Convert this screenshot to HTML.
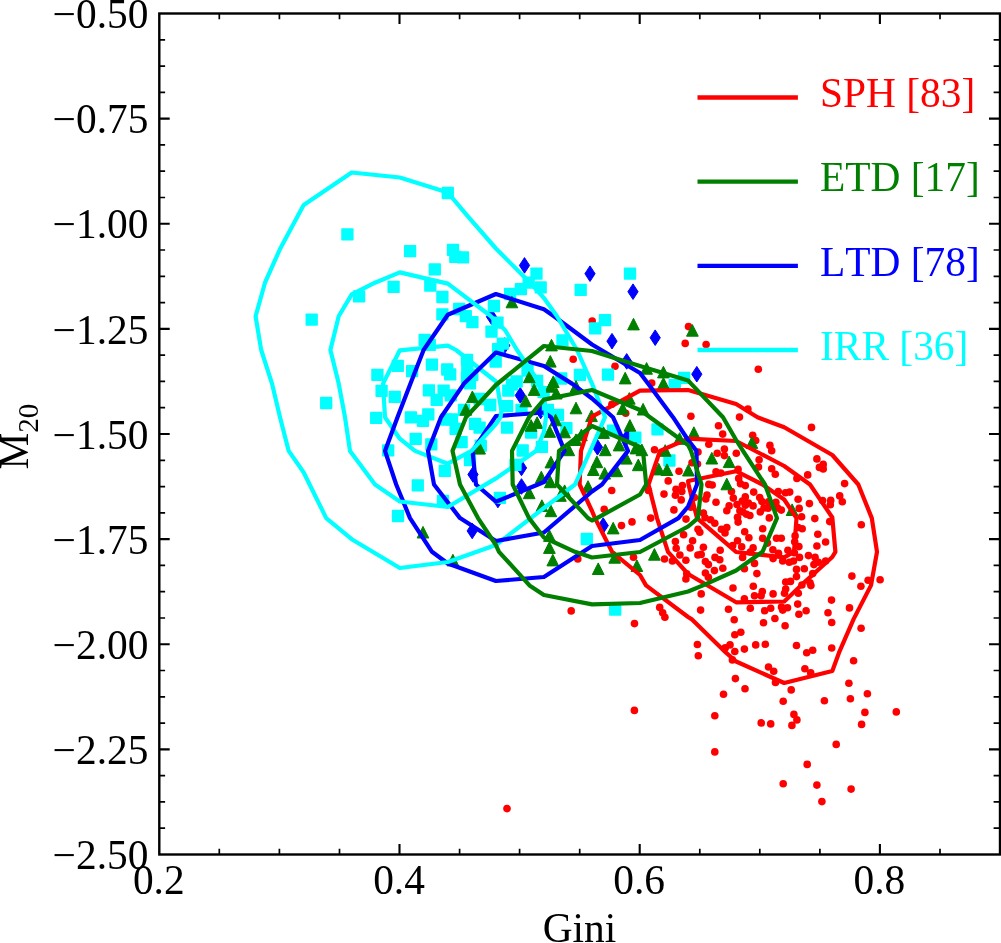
<!DOCTYPE html>
<html lang="en">
<head>
<meta charset="utf-8">
<title>Gini - M20</title>
<style>
html,body{margin:0;padding:0;background:#fff;}
body{width:1001px;height:943px;overflow:hidden;}
svg{display:block;}
svg text{font-family:"Liberation Serif", "Times New Roman", serif;font-size:41.4px;fill:#000;font-kerning:none;}
</style>
</head>
<body>
<svg width="1001" height="943" viewBox="0 0 1001 943">
<rect x="0" y="0" width="1001" height="943" fill="#fff"/>
<g fill="#ff0000">
<circle cx="748.4" cy="503.0" r="3.8"/><circle cx="737.0" cy="504.5" r="3.8"/><circle cx="749.9" cy="515.5" r="3.8"/><circle cx="742.9" cy="512.0" r="3.8"/><circle cx="761.9" cy="501.5" r="3.8"/><circle cx="712.2" cy="485.0" r="3.8"/><circle cx="705.8" cy="499.0" r="3.8"/><circle cx="705.0" cy="517.8" r="3.8"/><circle cx="708.8" cy="444.2" r="3.8"/><circle cx="717.2" cy="453.2" r="3.8"/><circle cx="724.4" cy="449.0" r="3.8"/><circle cx="724.4" cy="455.6" r="3.8"/><circle cx="736.3" cy="453.2" r="3.8"/><circle cx="698.0" cy="452.0" r="3.8"/><circle cx="769.9" cy="445.4" r="3.8"/><circle cx="771.7" cy="450.8" r="3.8"/><circle cx="759.1" cy="459.8" r="3.8"/><circle cx="758.5" cy="467.0" r="3.8"/><circle cx="771.7" cy="468.8" r="3.8"/><circle cx="775.3" cy="474.2" r="3.8"/><circle cx="796.9" cy="478.4" r="3.8"/><circle cx="738.1" cy="469.4" r="3.8"/><circle cx="716.0" cy="471.8" r="3.8"/><circle cx="720.8" cy="473.0" r="3.8"/><circle cx="738.7" cy="478.4" r="3.8"/><circle cx="740.5" cy="483.8" r="3.8"/><circle cx="745.3" cy="485.6" r="3.8"/><circle cx="708.8" cy="484.4" r="3.8"/><circle cx="707.0" cy="495.1" r="3.8"/><circle cx="716.0" cy="502.3" r="3.8"/><circle cx="731.5" cy="491.5" r="3.8"/><circle cx="733.3" cy="498.1" r="3.8"/><circle cx="745.3" cy="496.9" r="3.8"/><circle cx="753.7" cy="492.1" r="3.8"/><circle cx="759.7" cy="497.5" r="3.8"/><circle cx="742.3" cy="501.1" r="3.8"/><circle cx="745.3" cy="505.3" r="3.8"/><circle cx="753.1" cy="505.9" r="3.8"/><circle cx="729.1" cy="505.9" r="3.8"/><circle cx="726.8" cy="510.7" r="3.8"/><circle cx="739.9" cy="510.7" r="3.8"/><circle cx="746.5" cy="514.3" r="3.8"/><circle cx="737.5" cy="517.3" r="3.8"/><circle cx="738.1" cy="522.1" r="3.8"/><circle cx="760.3" cy="511.9" r="3.8"/><circle cx="768.1" cy="508.3" r="3.8"/><circle cx="769.3" cy="517.9" r="3.8"/><circle cx="778.3" cy="491.5" r="3.8"/><circle cx="785.5" cy="492.7" r="3.8"/><circle cx="789.7" cy="492.1" r="3.8"/><circle cx="798.1" cy="499.3" r="3.8"/><circle cx="775.9" cy="502.3" r="3.8"/><circle cx="781.3" cy="510.1" r="3.8"/><circle cx="762.7" cy="528.7" r="3.8"/><circle cx="744.7" cy="531.7" r="3.8"/><circle cx="748.9" cy="537.7" r="3.8"/><circle cx="737.5" cy="540.7" r="3.8"/><circle cx="741.7" cy="546.7" r="3.8"/><circle cx="753.1" cy="547.9" r="3.8"/><circle cx="732.7" cy="545.5" r="3.8"/><circle cx="726.8" cy="527.5" r="3.8"/><circle cx="721.4" cy="529.3" r="3.8"/><circle cx="725.0" cy="532.9" r="3.8"/><circle cx="710.6" cy="519.7" r="3.8"/><circle cx="714.8" cy="523.3" r="3.8"/><circle cx="703.4" cy="513.1" r="3.8"/><circle cx="698.0" cy="529.3" r="3.8"/><circle cx="699.8" cy="532.3" r="3.8"/><circle cx="692.6" cy="540.7" r="3.8"/><circle cx="690.2" cy="547.9" r="3.8"/><circle cx="703.4" cy="547.3" r="3.8"/><circle cx="720.2" cy="550.3" r="3.8"/><circle cx="683.6" cy="534.7" r="3.8"/><circle cx="686.0" cy="519.1" r="3.8"/><circle cx="681.2" cy="499.9" r="3.8"/><circle cx="682.4" cy="485.6" r="3.8"/><circle cx="681.8" cy="491.5" r="3.8"/><circle cx="690.8" cy="507.1" r="3.8"/><circle cx="694.4" cy="497.5" r="3.8"/><circle cx="776.5" cy="538.3" r="3.8"/><circle cx="781.3" cy="538.3" r="3.8"/><circle cx="762.7" cy="538.3" r="3.8"/><circle cx="767.5" cy="543.1" r="3.8"/><circle cx="772.9" cy="549.7" r="3.8"/><circle cx="787.9" cy="550.3" r="3.8"/><circle cx="795.1" cy="535.9" r="3.8"/><circle cx="798.1" cy="527.5" r="3.8"/><circle cx="692.0" cy="462.8" r="3.8"/><circle cx="611.9" cy="404.2" r="3.8"/><circle cx="625.7" cy="413.2" r="3.8"/><circle cx="654.5" cy="449.7" r="3.8"/><circle cx="611.7" cy="490.5" r="3.8"/><circle cx="701.2" cy="554.4" r="3.8"/><circle cx="705.4" cy="561.6" r="3.8"/><circle cx="708.4" cy="564.6" r="3.8"/><circle cx="715.0" cy="557.4" r="3.8"/><circle cx="719.8" cy="559.8" r="3.8"/><circle cx="722.8" cy="568.2" r="3.8"/><circle cx="714.4" cy="570.6" r="3.8"/><circle cx="705.4" cy="573.0" r="3.8"/><circle cx="708.4" cy="577.2" r="3.8"/><circle cx="750.3" cy="552.0" r="3.8"/><circle cx="742.6" cy="557.4" r="3.8"/><circle cx="754.5" cy="563.4" r="3.8"/><circle cx="744.4" cy="568.8" r="3.8"/><circle cx="756.9" cy="573.6" r="3.8"/><circle cx="778.5" cy="553.2" r="3.8"/><circle cx="773.1" cy="558.6" r="3.8"/><circle cx="782.7" cy="561.0" r="3.8"/><circle cx="789.3" cy="562.2" r="3.8"/><circle cx="793.5" cy="561.0" r="3.8"/><circle cx="798.9" cy="546.6" r="3.8"/><circle cx="794.7" cy="541.8" r="3.8"/><circle cx="799.5" cy="557.4" r="3.8"/><circle cx="796.5" cy="569.4" r="3.8"/><circle cx="804.3" cy="568.8" r="3.8"/><circle cx="808.5" cy="555.6" r="3.8"/><circle cx="815.1" cy="557.4" r="3.8"/><circle cx="816.9" cy="546.0" r="3.8"/><circle cx="813.9" cy="564.6" r="3.8"/><circle cx="812.7" cy="573.6" r="3.8"/><circle cx="796.5" cy="576.6" r="3.8"/><circle cx="785.7" cy="582.0" r="3.8"/><circle cx="790.5" cy="581.4" r="3.8"/><circle cx="801.9" cy="585.0" r="3.8"/><circle cx="810.9" cy="585.6" r="3.8"/><circle cx="785.7" cy="589.1" r="3.8"/><circle cx="784.5" cy="593.3" r="3.8"/><circle cx="798.3" cy="593.3" r="3.8"/><circle cx="733.0" cy="588.0" r="3.8"/><circle cx="753.3" cy="586.2" r="3.8"/><circle cx="762.3" cy="591.5" r="3.8"/><circle cx="754.5" cy="595.7" r="3.8"/><circle cx="761.1" cy="595.7" r="3.8"/><circle cx="773.1" cy="593.9" r="3.8"/><circle cx="744.4" cy="598.7" r="3.8"/><circle cx="750.3" cy="608.3" r="3.8"/><circle cx="764.7" cy="610.7" r="3.8"/><circle cx="770.7" cy="608.3" r="3.8"/><circle cx="781.5" cy="607.1" r="3.8"/><circle cx="787.5" cy="607.7" r="3.8"/><circle cx="782.7" cy="610.1" r="3.8"/><circle cx="797.7" cy="604.1" r="3.8"/><circle cx="806.1" cy="610.7" r="3.8"/><circle cx="798.9" cy="614.3" r="3.8"/><circle cx="701.2" cy="593.9" r="3.8"/><circle cx="700.6" cy="610.1" r="3.8"/><circle cx="728.5" cy="609.3" r="3.8"/><circle cx="734.2" cy="619.7" r="3.8"/><circle cx="763.5" cy="622.7" r="3.8"/><circle cx="774.9" cy="618.5" r="3.8"/><circle cx="785.1" cy="625.7" r="3.8"/><circle cx="734.8" cy="634.7" r="3.8"/><circle cx="740.8" cy="632.3" r="3.8"/><circle cx="730.0" cy="644.9" r="3.8"/><circle cx="725.2" cy="647.9" r="3.8"/><circle cx="734.8" cy="651.5" r="3.8"/><circle cx="744.4" cy="649.1" r="3.8"/><circle cx="755.7" cy="644.9" r="3.8"/><circle cx="765.3" cy="644.3" r="3.8"/><circle cx="796.5" cy="645.5" r="3.8"/><circle cx="812.7" cy="650.3" r="3.8"/><circle cx="806.7" cy="652.7" r="3.8"/><circle cx="809.4" cy="503.6" r="3.8"/><circle cx="799.2" cy="508.4" r="3.8"/><circle cx="801.6" cy="516.8" r="3.8"/><circle cx="814.8" cy="518.6" r="3.8"/><circle cx="829.7" cy="521.6" r="3.8"/><circle cx="802.2" cy="528.8" r="3.8"/><circle cx="817.8" cy="534.2" r="3.8"/><circle cx="825.6" cy="542.0" r="3.8"/><circle cx="794.4" cy="552.7" r="3.8"/><circle cx="818.4" cy="562.3" r="3.8"/><circle cx="825.6" cy="561.1" r="3.8"/><circle cx="810.0" cy="582.7" r="3.8"/><circle cx="831.5" cy="600.1" r="3.8"/><circle cx="828.0" cy="612.7" r="3.8"/><circle cx="849.5" cy="607.9" r="3.8"/><circle cx="851.9" cy="576.1" r="3.8"/><circle cx="860.9" cy="586.3" r="3.8"/><circle cx="868.1" cy="580.3" r="3.8"/><circle cx="880.1" cy="579.7" r="3.8"/><circle cx="861.3" cy="524.8" r="3.8"/><circle cx="842.3" cy="501.8" r="3.8"/><circle cx="822.6" cy="500.6" r="3.8"/><circle cx="830.3" cy="504.8" r="3.8"/><circle cx="690.9" cy="416.2" r="3.8"/><circle cx="739.5" cy="417.1" r="3.8"/><circle cx="747.9" cy="409.0" r="3.8"/><circle cx="718.5" cy="425.8" r="3.8"/><circle cx="722.7" cy="434.1" r="3.8"/><circle cx="752.7" cy="435.3" r="3.8"/><circle cx="697.5" cy="464.1" r="3.8"/><circle cx="679.0" cy="471.3" r="3.8"/><circle cx="668.2" cy="480.9" r="3.8"/><circle cx="676.0" cy="489.3" r="3.8"/><circle cx="664.0" cy="494.1" r="3.8"/><circle cx="648.4" cy="490.5" r="3.8"/><circle cx="675.4" cy="495.3" r="3.8"/><circle cx="592.2" cy="321.0" r="3.8"/><circle cx="688.5" cy="326.6" r="3.8"/><circle cx="685.2" cy="343.4" r="3.8"/><circle cx="706.1" cy="344.6" r="3.8"/><circle cx="615.0" cy="366.2" r="3.8"/><circle cx="651.7" cy="383.1" r="3.8"/><circle cx="604.2" cy="509.2" r="3.8"/><circle cx="621.5" cy="525.6" r="3.8"/><circle cx="632.0" cy="521.9" r="3.8"/><circle cx="673.9" cy="509.9" r="3.8"/><circle cx="650.7" cy="518.1" r="3.8"/><circle cx="633.5" cy="557.2" r="3.8"/><circle cx="634.5" cy="623.6" r="3.8"/><circle cx="659.7" cy="607.4" r="3.8"/><circle cx="662.7" cy="612.7" r="3.8"/><circle cx="664.9" cy="617.2" r="3.8"/><circle cx="697.4" cy="644.5" r="3.8"/><circle cx="698.3" cy="655.8" r="3.8"/><circle cx="732.4" cy="659.9" r="3.8"/><circle cx="735.4" cy="678.6" r="3.8"/><circle cx="664.5" cy="559.0" r="3.8"/><circle cx="672.4" cy="561.0" r="3.8"/><circle cx="676.2" cy="548.2" r="3.8"/><circle cx="679.9" cy="555.0" r="3.8"/><circle cx="685.9" cy="560.2" r="3.8"/><circle cx="697.9" cy="555.0" r="3.8"/><circle cx="686.7" cy="573.7" r="3.8"/><circle cx="685.9" cy="579.0" r="3.8"/><circle cx="675.4" cy="541.5" r="3.8"/><circle cx="811.5" cy="427.4" r="3.8"/><circle cx="755.7" cy="440.5" r="3.8"/><circle cx="816.9" cy="458.9" r="3.8"/><circle cx="823.2" cy="464.4" r="3.8"/><circle cx="819.4" cy="467.4" r="3.8"/><circle cx="823.2" cy="468.9" r="3.8"/><circle cx="807.7" cy="474.9" r="3.8"/><circle cx="844.6" cy="483.6" r="3.8"/><circle cx="839.7" cy="495.9" r="3.8"/><circle cx="830.7" cy="500.4" r="3.8"/><circle cx="764.0" cy="507.9" r="3.8"/><circle cx="768.5" cy="501.9" r="3.8"/><circle cx="777.5" cy="507.9" r="3.8"/><circle cx="577.8" cy="558.9" r="3.8"/><circle cx="571.2" cy="610.9" r="3.8"/><circle cx="573.2" cy="359.3" r="3.8"/><circle cx="507.0" cy="808.6" r="3.8"/><circle cx="634.4" cy="710.4" r="3.8"/><circle cx="723.5" cy="694.2" r="3.8"/><circle cx="714.8" cy="715.7" r="3.8"/><circle cx="714.8" cy="751.9" r="3.8"/><circle cx="831.7" cy="622.5" r="3.8"/><circle cx="861.1" cy="628.2" r="3.8"/><circle cx="831.7" cy="648.0" r="3.8"/><circle cx="853.6" cy="660.7" r="3.8"/><circle cx="768.5" cy="667.0" r="3.8"/><circle cx="773.7" cy="671.2" r="3.8"/><circle cx="804.9" cy="668.7" r="3.8"/><circle cx="810.7" cy="672.9" r="3.8"/><circle cx="775.5" cy="682.4" r="3.8"/><circle cx="745.0" cy="688.7" r="3.8"/><circle cx="791.2" cy="689.9" r="3.8"/><circle cx="848.9" cy="683.2" r="3.8"/><circle cx="867.4" cy="693.7" r="3.8"/><circle cx="783.2" cy="701.2" r="3.8"/><circle cx="824.4" cy="700.7" r="3.8"/><circle cx="850.4" cy="698.7" r="3.8"/><circle cx="864.9" cy="712.4" r="3.8"/><circle cx="896.3" cy="711.9" r="3.8"/><circle cx="793.9" cy="714.4" r="3.8"/><circle cx="796.9" cy="719.9" r="3.8"/><circle cx="791.9" cy="725.4" r="3.8"/><circle cx="761.2" cy="722.9" r="3.8"/><circle cx="770.7" cy="723.9" r="3.8"/><circle cx="861.6" cy="724.4" r="3.8"/><circle cx="836.2" cy="744.4" r="3.8"/><circle cx="807.2" cy="764.4" r="3.8"/><circle cx="783.2" cy="783.8" r="3.8"/><circle cx="816.9" cy="785.1" r="3.8"/><circle cx="851.1" cy="789.1" r="3.8"/><circle cx="821.9" cy="801.6" r="3.8"/><circle cx="758.3" cy="369.3" r="3.8"/>
</g>
<g fill="#0000ff" stroke="#0000ff" stroke-width="1" stroke-linejoin="round">
<path d="M491.5 309.0l5.1 7.8l-5.1 7.8l-5.1 -7.8z"/><path d="M504.7 337.7l5.1 7.8l-5.1 7.8l-5.1 -7.8z"/><path d="M520.3 387.6l5.1 7.8l-5.1 7.8l-5.1 -7.8z"/><path d="M540.7 403.2l5.1 7.8l-5.1 7.8l-5.1 -7.8z"/><path d="M473.0 466.7l5.1 7.8l-5.1 7.8l-5.1 -7.8z"/><path d="M521.5 460.1l5.1 7.8l-5.1 7.8l-5.1 -7.8z"/><path d="M521.5 478.7l5.1 7.8l-5.1 7.8l-5.1 -7.8z"/><path d="M597.5 439.5l5.1 7.8l-5.1 7.8l-5.1 -7.8z"/><path d="M627.5 428.7l5.1 7.8l-5.1 7.8l-5.1 -7.8z"/><path d="M633.0 283.9l5.1 7.8l-5.1 7.8l-5.1 -7.8z"/><path d="M612.0 333.4l5.1 7.8l-5.1 7.8l-5.1 -7.8z"/><path d="M655.2 329.9l5.1 7.8l-5.1 7.8l-5.1 -7.8z"/><path d="M696.8 366.4l5.1 7.8l-5.1 7.8l-5.1 -7.8z"/><path d="M626.7 353.6l5.1 7.8l-5.1 7.8l-5.1 -7.8z"/><path d="M590.0 265.9l5.1 7.8l-5.1 7.8l-5.1 -7.8z"/><path d="M603.2 517.8l5.1 7.8l-5.1 7.8l-5.1 -7.8z"/><path d="M472.2 523.1l5.1 7.8l-5.1 7.8l-5.1 -7.8z"/><path d="M497.9 492.2l5.1 7.8l-5.1 7.8l-5.1 -7.8z"/><path d="M524.5 257.6l5.1 7.8l-5.1 7.8l-5.1 -7.8z"/>
</g>
<g fill="#00ffff">
<rect x="436.25" y="290.85" width="12.3" height="12.3" rx="0.8"/><rect x="436.25" y="308.25" width="12.3" height="12.3" rx="0.8"/><rect x="453.05" y="302.85" width="12.3" height="12.3" rx="0.8"/><rect x="459.65" y="310.05" width="12.3" height="12.3" rx="0.8"/><rect x="466.25" y="315.95" width="12.3" height="12.3" rx="0.8"/><rect x="487.75" y="299.85" width="12.3" height="12.3" rx="0.8"/><rect x="503.95" y="287.85" width="12.3" height="12.3" rx="0.8"/><rect x="514.75" y="283.05" width="12.3" height="12.3" rx="0.8"/><rect x="522.55" y="276.45" width="12.3" height="12.3" rx="0.8"/><rect x="530.35" y="267.45" width="12.3" height="12.3" rx="0.8"/><rect x="534.55" y="281.25" width="12.3" height="12.3" rx="0.8"/><rect x="491.35" y="316.55" width="12.3" height="12.3" rx="0.8"/><rect x="485.35" y="325.55" width="12.3" height="12.3" rx="0.8"/><rect x="496.75" y="337.55" width="12.3" height="12.3" rx="0.8"/><rect x="491.95" y="342.95" width="12.3" height="12.3" rx="0.8"/><rect x="460.85" y="353.75" width="12.3" height="12.3" rx="0.8"/><rect x="489.55" y="355.55" width="12.3" height="12.3" rx="0.8"/><rect x="441.05" y="363.35" width="12.3" height="12.3" rx="0.8"/><rect x="444.05" y="368.15" width="12.3" height="12.3" rx="0.8"/><rect x="460.85" y="371.75" width="12.3" height="12.3" rx="0.8"/><rect x="521.35" y="364.55" width="12.3" height="12.3" rx="0.8"/><rect x="556.35" y="334.25" width="12.3" height="12.3" rx="0.8"/><rect x="510.55" y="375.35" width="12.3" height="12.3" rx="0.8"/><rect x="437.45" y="384.45" width="12.3" height="12.3" rx="0.8"/><rect x="444.65" y="389.25" width="12.3" height="12.3" rx="0.8"/><rect x="463.85" y="377.25" width="12.3" height="12.3" rx="0.8"/><rect x="473.45" y="392.85" width="12.3" height="12.3" rx="0.8"/><rect x="484.15" y="398.85" width="12.3" height="12.3" rx="0.8"/><rect x="457.85" y="403.65" width="12.3" height="12.3" rx="0.8"/><rect x="445.85" y="413.25" width="12.3" height="12.3" rx="0.8"/><rect x="449.45" y="422.75" width="12.3" height="12.3" rx="0.8"/><rect x="473.45" y="421.55" width="12.3" height="12.3" rx="0.8"/><rect x="455.45" y="435.95" width="12.3" height="12.3" rx="0.8"/><rect x="474.65" y="439.55" width="12.3" height="12.3" rx="0.8"/><rect x="463.85" y="453.95" width="12.3" height="12.3" rx="0.8"/><rect x="438.65" y="464.75" width="12.3" height="12.3" rx="0.8"/><rect x="505.75" y="378.45" width="12.3" height="12.3" rx="0.8"/><rect x="502.15" y="384.45" width="12.3" height="12.3" rx="0.8"/><rect x="500.95" y="400.05" width="12.3" height="12.3" rx="0.8"/><rect x="515.35" y="403.65" width="12.3" height="12.3" rx="0.8"/><rect x="500.95" y="421.55" width="12.3" height="12.3" rx="0.8"/><rect x="524.95" y="426.35" width="12.3" height="12.3" rx="0.8"/><rect x="516.55" y="444.35" width="12.3" height="12.3" rx="0.8"/><rect x="535.75" y="440.75" width="12.3" height="12.3" rx="0.8"/><rect x="541.75" y="403.65" width="12.3" height="12.3" rx="0.8"/><rect x="530.95" y="374.85" width="12.3" height="12.3" rx="0.8"/><rect x="509.35" y="458.75" width="12.3" height="12.3" rx="0.8"/><rect x="537.45" y="386.05" width="12.3" height="12.3" rx="0.8"/><rect x="551.85" y="408.85" width="12.3" height="12.3" rx="0.8"/><rect x="560.25" y="422.05" width="12.3" height="12.3" rx="0.8"/><rect x="606.95" y="424.45" width="12.3" height="12.3" rx="0.8"/><rect x="629.15" y="431.55" width="12.3" height="12.3" rx="0.8"/><rect x="651.35" y="423.25" width="12.3" height="12.3" rx="0.8"/><rect x="663.25" y="454.35" width="12.3" height="12.3" rx="0.8"/><rect x="668.65" y="378.85" width="12.3" height="12.3" rx="0.8"/><rect x="371.25" y="368.65" width="12.3" height="12.3" rx="0.8"/><rect x="375.45" y="384.75" width="12.3" height="12.3" rx="0.8"/><rect x="370.05" y="411.75" width="12.3" height="12.3" rx="0.8"/><rect x="391.65" y="359.65" width="12.3" height="12.3" rx="0.8"/><rect x="388.65" y="390.75" width="12.3" height="12.3" rx="0.8"/><rect x="405.95" y="365.05" width="12.3" height="12.3" rx="0.8"/><rect x="425.75" y="358.45" width="12.3" height="12.3" rx="0.8"/><rect x="418.55" y="333.85" width="12.3" height="12.3" rx="0.8"/><rect x="422.75" y="384.15" width="12.3" height="12.3" rx="0.8"/><rect x="430.55" y="393.75" width="12.3" height="12.3" rx="0.8"/><rect x="404.75" y="411.15" width="12.3" height="12.3" rx="0.8"/><rect x="416.75" y="414.75" width="12.3" height="12.3" rx="0.8"/><rect x="422.15" y="408.15" width="12.3" height="12.3" rx="0.8"/><rect x="440.15" y="413.55" width="12.3" height="12.3" rx="0.8"/><rect x="409.55" y="432.75" width="12.3" height="12.3" rx="0.8"/><rect x="425.15" y="438.15" width="12.3" height="12.3" rx="0.8"/><rect x="382.05" y="444.15" width="12.3" height="12.3" rx="0.8"/><rect x="468.95" y="417.75" width="12.3" height="12.3" rx="0.8"/><rect x="623.85" y="267.55" width="12.3" height="12.3" rx="0.8"/><rect x="598.85" y="314.05" width="12.3" height="12.3" rx="0.8"/><rect x="589.05" y="322.25" width="12.3" height="12.3" rx="0.8"/><rect x="601.85" y="368.45" width="12.3" height="12.3" rx="0.8"/><rect x="677.95" y="371.75" width="12.3" height="12.3" rx="0.8"/><rect x="609.05" y="603.55" width="12.3" height="12.3" rx="0.8"/><rect x="493.75" y="491.75" width="12.3" height="12.3" rx="0.8"/><rect x="436.85" y="494.75" width="12.3" height="12.3" rx="0.8"/><rect x="391.85" y="509.85" width="12.3" height="12.3" rx="0.8"/><rect x="580.65" y="532.85" width="12.3" height="12.3" rx="0.8"/><rect x="441.65" y="186.85" width="12.3" height="12.3" rx="0.8"/><rect x="341.25" y="228.25" width="12.3" height="12.3" rx="0.8"/><rect x="403.95" y="244.95" width="12.3" height="12.3" rx="0.8"/><rect x="446.85" y="243.75" width="12.3" height="12.3" rx="0.8"/><rect x="449.15" y="250.75" width="12.3" height="12.3" rx="0.8"/><rect x="456.85" y="251.25" width="12.3" height="12.3" rx="0.8"/><rect x="428.65" y="263.25" width="12.3" height="12.3" rx="0.8"/><rect x="387.45" y="280.75" width="12.3" height="12.3" rx="0.8"/><rect x="424.15" y="279.45" width="12.3" height="12.3" rx="0.8"/><rect x="352.95" y="290.25" width="12.3" height="12.3" rx="0.8"/><rect x="305.55" y="313.45" width="12.3" height="12.3" rx="0.8"/><rect x="423.65" y="338.65" width="12.3" height="12.3" rx="0.8"/><rect x="461.15" y="361.15" width="12.3" height="12.3" rx="0.8"/><rect x="466.15" y="368.65" width="12.3" height="12.3" rx="0.8"/><rect x="574.55" y="283.75" width="12.3" height="12.3" rx="0.8"/><rect x="573.75" y="368.65" width="12.3" height="12.3" rx="0.8"/><rect x="555.05" y="372.35" width="12.3" height="12.3" rx="0.8"/><rect x="320.05" y="396.85" width="12.3" height="12.3" rx="0.8"/><rect x="411.65" y="479.25" width="12.3" height="12.3" rx="0.8"/>
</g>
<g fill="#007f00" stroke="#007f00" stroke-width="1" stroke-linejoin="round">
<path d="M711.8 452.4l5.85 11.6h-11.7z"/><path d="M729.1 456.0l5.85 11.6h-11.7z"/><path d="M688.4 464.4l5.85 11.6h-11.7z"/><path d="M726.8 478.2l5.85 11.6h-11.7z"/><path d="M751.9 436.8l5.85 11.6h-11.7z"/><path d="M792.1 503.9l5.85 11.6h-11.7z"/><path d="M511.9 296.2l5.85 11.6h-11.7z"/><path d="M551.5 339.3l5.85 11.6h-11.7z"/><path d="M550.3 355.5l5.85 11.6h-11.7z"/><path d="M529.3 371.1l5.85 11.6h-11.7z"/><path d="M553.3 375.9l5.85 11.6h-11.7z"/><path d="M472.4 391.0l5.85 11.6h-11.7z"/><path d="M465.8 403.6l5.85 11.6h-11.7z"/><path d="M534.1 383.8l5.85 11.6h-11.7z"/><path d="M525.7 395.2l5.85 11.6h-11.7z"/><path d="M556.3 387.4l5.85 11.6h-11.7z"/><path d="M531.1 419.7l5.85 11.6h-11.7z"/><path d="M537.1 416.8l5.85 11.6h-11.7z"/><path d="M549.7 425.7l5.85 11.6h-11.7z"/><path d="M479.6 442.5l5.85 11.6h-11.7z"/><path d="M550.9 456.3l5.85 11.6h-11.7z"/><path d="M541.3 471.3l5.85 11.6h-11.7z"/><path d="M550.3 476.1l5.85 11.6h-11.7z"/><path d="M550.8 380.6l5.85 11.6h-11.7z"/><path d="M576.0 380.6l5.85 11.6h-11.7z"/><path d="M576.0 402.2l5.85 11.6h-11.7z"/><path d="M591.5 410.0l5.85 11.6h-11.7z"/><path d="M564.6 426.2l5.85 11.6h-11.7z"/><path d="M555.6 414.2l5.85 11.6h-11.7z"/><path d="M576.0 433.9l5.85 11.6h-11.7z"/><path d="M581.4 429.1l5.85 11.6h-11.7z"/><path d="M603.5 426.8l5.85 11.6h-11.7z"/><path d="M629.9 419.6l5.85 11.6h-11.7z"/><path d="M629.3 392.6l5.85 11.6h-11.7z"/><path d="M622.7 402.8l5.85 11.6h-11.7z"/><path d="M643.1 403.4l5.85 11.6h-11.7z"/><path d="M605.3 444.1l5.85 11.6h-11.7z"/><path d="M619.1 439.3l5.85 11.6h-11.7z"/><path d="M568.8 444.1l5.85 11.6h-11.7z"/><path d="M635.9 442.3l5.85 11.6h-11.7z"/><path d="M641.9 444.1l5.85 11.6h-11.7z"/><path d="M596.9 456.1l5.85 11.6h-11.7z"/><path d="M626.3 452.5l5.85 11.6h-11.7z"/><path d="M638.3 459.1l5.85 11.6h-11.7z"/><path d="M593.3 463.9l5.85 11.6h-11.7z"/><path d="M604.7 467.5l5.85 11.6h-11.7z"/><path d="M616.7 465.1l5.85 11.6h-11.7z"/><path d="M658.7 463.3l5.85 11.6h-11.7z"/><path d="M588.0 480.7l5.85 11.6h-11.7z"/><path d="M564.6 484.9l5.85 11.6h-11.7z"/><path d="M560.4 489.7l5.85 11.6h-11.7z"/><path d="M693.9 426.8l5.85 11.6h-11.7z"/><path d="M679.6 432.7l5.85 11.6h-11.7z"/><path d="M665.2 444.7l5.85 11.6h-11.7z"/><path d="M667.0 463.9l5.85 11.6h-11.7z"/><path d="M633.5 318.3l5.85 11.6h-11.7z"/><path d="M692.4 324.6l5.85 11.6h-11.7z"/><path d="M625.2 372.3l5.85 11.6h-11.7z"/><path d="M646.6 362.6l5.85 11.6h-11.7z"/><path d="M663.4 366.3l5.85 11.6h-11.7z"/><path d="M663.4 377.5l5.85 11.6h-11.7z"/><path d="M613.2 522.3l5.85 11.6h-11.7z"/><path d="M598.2 562.9l5.85 11.6h-11.7z"/><path d="M614.7 551.6l5.85 11.6h-11.7z"/><path d="M636.9 559.9l5.85 11.6h-11.7z"/><path d="M654.4 548.6l5.85 11.6h-11.7z"/><path d="M529.2 487.1l5.85 11.6h-11.7z"/><path d="M541.9 499.8l5.85 11.6h-11.7z"/><path d="M550.9 505.1l5.85 11.6h-11.7z"/><path d="M549.4 529.8l5.85 11.6h-11.7z"/><path d="M549.4 541.8l5.85 11.6h-11.7z"/><path d="M423.0 526.4l5.85 11.6h-11.7z"/><path d="M452.9 554.3l5.85 11.6h-11.7z"/><path d="M552.8 554.3l5.85 11.6h-11.7z"/>
</g>
<path d="M640.0 390.6 L688.1 390.0 L736.1 404.0 L757.5 417.2 L784.2 427.2 L832.3 455.0 L858.3 484.5 L871.8 518.1 L877.0 551.8 L871.0 585.4 L853.6 619.1 L839.0 652.7 L832.3 671.0 L784.2 683.0 L736.1 661.5 L726.0 652.7 L691.5 619.1 L688.1 617.0 L646.0 585.4 L640.0 575.0 L612.0 551.8 L595.0 518.1 L592.0 511.0 L579.6 484.5 L581.0 450.9 L592.0 416.7 Z" fill="none" stroke="#ff0000" stroke-width="4.2" stroke-linejoin="round"/>
<path d="M688.1 438.7 L736.1 441.0 L784.2 466.0 L810.0 484.5 L832.3 517.5 L835.4 551.8 L832.3 557.0 L801.0 585.4 L784.2 601.5 L736.1 602.3 L688.1 574.0 L668.0 551.8 L657.0 518.1 L648.5 484.5 L660.0 450.9 Z" fill="none" stroke="#ff0000" stroke-width="4.2" stroke-linejoin="round"/>
<path d="M688.1 481.0 L736.1 471.2 L762.5 484.5 L784.2 499.5 L796.5 518.1 L794.0 551.8 L784.2 557.3 L736.1 552.0 L731.5 547.9 L697.0 518.1 L688.5 484.5 Z" fill="none" stroke="#ff0000" stroke-width="4.2" stroke-linejoin="round"/>
<path d="M495.9 416.2 L543.9 412.5 L551.0 417.2 L564.5 450.9 L543.9 482.0 L538.0 484.5 L495.9 501.7 L476.0 484.5 L472.5 450.9 Z" fill="none" stroke="#0000ff" stroke-width="4.2" stroke-linejoin="round"/>
<path d="M399.8 350.3 L447.8 345.6 L456.0 350.0 L495.9 381.5 L497.0 383.6 L501.4 411.0 L500.5 417.2 L495.9 424.0 L471.5 450.9 L447.8 463.7 L415.0 450.9 L399.8 438.7 L385.0 417.2 L383.0 383.6 Z" fill="none" stroke="#00ffff" stroke-width="4.2" stroke-linejoin="round"/>
<path d="M495.9 294.0 L543.9 309.3 L554.0 316.3 L592.0 344.5 L640.0 373.0 L648.0 383.6 L673.0 417.2 L688.1 440.0 L696.5 450.9 L697.0 484.5 L688.1 506.5 L678.4 518.1 L640.0 540.0 L592.0 546.0 L543.9 577.0 L495.9 581.0 L447.8 563.5 L432.0 551.8 L410.0 518.1 L396.2 484.5 L385.0 450.9 L397.5 417.2 L410.5 383.6 L423.6 350.0 L447.8 314.8 Z" fill="none" stroke="#0000ff" stroke-width="4.2" stroke-linejoin="round"/>
<path d="M351.7 172.5 L399.8 177.5 L447.8 192.5 L467.0 215.4 L495.9 248.5 L530.0 282.7 L543.9 298.0 L557.0 316.3 L577.0 350.0 L592.0 383.6 L605.0 417.2 L592.0 447.0 L575.0 484.5 L543.9 508.0 L495.9 545.0 L447.8 562.0 L399.8 568.0 L351.7 539.2 L326.2 518.1 L303.7 472.5 L288.7 450.9 L280.0 417.2 L272.0 383.6 L261.2 350.0 L255.6 316.3 L265.0 282.7 L280.0 249.0 L298.0 215.4 L303.7 205.0 Z" fill="none" stroke="#00ffff" stroke-width="4.2" stroke-linejoin="round"/>
<path d="M495.9 352.5 L543.9 366.0 L572.0 383.6 L592.0 398.5 L613.0 417.2 L628.0 450.9 L602.0 484.5 L592.0 491.5 L543.9 532.5 L495.9 541.0 L460.0 518.1 L434.0 484.5 L428.0 450.9 L441.0 417.2 L464.0 383.6 Z" fill="none" stroke="#0000ff" stroke-width="4.2" stroke-linejoin="round"/>
<path d="M399.8 272.4 L447.8 283.6 L490.0 315.5 L505.0 330.0 L517.0 350.0 L540.0 383.6 L543.9 391.0 L546.0 417.2 L543.9 432.0 L536.0 450.9 L495.9 478.4 L447.8 507.0 L399.8 501.5 L375.0 484.5 L350.0 450.9 L345.0 417.2 L338.7 383.6 L330.4 350.0 L338.7 316.3 L351.7 294.4 L375.0 282.7 Z" fill="none" stroke="#00ffff" stroke-width="4.2" stroke-linejoin="round"/>
<path d="M543.9 346.0 L592.0 351.0 L640.0 366.0 L688.1 380.5 L691.0 383.6 L723.0 417.2 L736.1 440.0 L743.0 450.9 L765.0 484.5 L777.0 518.1 L762.5 551.8 L736.1 570.5 L703.0 585.4 L688.1 591.5 L640.0 603.0 L592.0 604.4 L543.9 595.0 L529.5 585.4 L499.0 551.8 L495.9 545.0 L478.0 518.1 L460.0 484.5 L452.5 450.9 L466.0 417.2 L495.9 385.0 Z" fill="none" stroke="#007f00" stroke-width="4.2" stroke-linejoin="round"/>
<path d="M543.9 399.6 L592.0 390.0 L640.0 410.0 L650.0 417.2 L688.1 445.0 L691.0 450.9 L701.5 484.5 L698.0 518.1 L688.1 526.5 L640.0 552.0 L592.0 557.5 L575.0 551.8 L543.9 537.5 L529.0 518.1 L512.7 484.5 L512.0 450.9 L529.0 417.2 Z" fill="none" stroke="#007f00" stroke-width="4.2" stroke-linejoin="round"/>
<path d="M592.0 426.0 L640.0 447.0 L643.0 450.9 L646.2 484.5 L640.0 494.5 L597.0 518.1 L592.0 520.5 L588.0 518.1 L557.0 484.5 L559.0 450.9 Z" fill="none" stroke="#007f00" stroke-width="4.2" stroke-linejoin="round"/>
<g stroke="#000" stroke-linecap="butt">
<path d="M219.3 854.5v-5.8 M219.3 13.5v5.8" stroke-width="1.7"/><path d="M279.4 854.5v-5.8 M279.4 13.5v5.8" stroke-width="1.7"/><path d="M339.5 854.5v-5.8 M339.5 13.5v5.8" stroke-width="1.7"/><path d="M399.5 854.5v-10.4 M399.5 13.5v10.4" stroke-width="2.1"/><path d="M459.6 854.5v-5.8 M459.6 13.5v5.8" stroke-width="1.7"/><path d="M519.6 854.5v-5.8 M519.6 13.5v5.8" stroke-width="1.7"/><path d="M579.7 854.5v-5.8 M579.7 13.5v5.8" stroke-width="1.7"/><path d="M639.7 854.5v-10.4 M639.7 13.5v10.4" stroke-width="2.1"/><path d="M699.8 854.5v-5.8 M699.8 13.5v5.8" stroke-width="1.7"/><path d="M759.8 854.5v-5.8 M759.8 13.5v5.8" stroke-width="1.7"/><path d="M819.9 854.5v-5.8 M819.9 13.5v5.8" stroke-width="1.7"/><path d="M879.9 854.5v-10.4 M879.9 13.5v10.4" stroke-width="2.1"/><path d="M940.0 854.5v-5.8 M940.0 13.5v5.8" stroke-width="1.7"/><path d="M159.3 39.8h5.8 M1000.0 39.8h-6.4" stroke-width="1.7"/><path d="M159.3 66.1h5.8 M1000.0 66.1h-6.4" stroke-width="1.7"/><path d="M159.3 92.3h5.8 M1000.0 92.3h-6.4" stroke-width="1.7"/><path d="M159.3 118.6h10.4 M1000.0 118.6h-11.0" stroke-width="2.1"/><path d="M159.3 144.9h5.8 M1000.0 144.9h-6.4" stroke-width="1.7"/><path d="M159.3 171.2h5.8 M1000.0 171.2h-6.4" stroke-width="1.7"/><path d="M159.3 197.5h5.8 M1000.0 197.5h-6.4" stroke-width="1.7"/><path d="M159.3 223.8h10.4 M1000.0 223.8h-11.0" stroke-width="2.1"/><path d="M159.3 250.0h5.8 M1000.0 250.0h-6.4" stroke-width="1.7"/><path d="M159.3 276.3h5.8 M1000.0 276.3h-6.4" stroke-width="1.7"/><path d="M159.3 302.6h5.8 M1000.0 302.6h-6.4" stroke-width="1.7"/><path d="M159.3 328.9h10.4 M1000.0 328.9h-11.0" stroke-width="2.1"/><path d="M159.3 355.2h5.8 M1000.0 355.2h-6.4" stroke-width="1.7"/><path d="M159.3 381.4h5.8 M1000.0 381.4h-6.4" stroke-width="1.7"/><path d="M159.3 407.7h5.8 M1000.0 407.7h-6.4" stroke-width="1.7"/><path d="M159.3 434.0h10.4 M1000.0 434.0h-11.0" stroke-width="2.1"/><path d="M159.3 460.3h5.8 M1000.0 460.3h-6.4" stroke-width="1.7"/><path d="M159.3 486.6h5.8 M1000.0 486.6h-6.4" stroke-width="1.7"/><path d="M159.3 512.8h5.8 M1000.0 512.8h-6.4" stroke-width="1.7"/><path d="M159.3 539.1h10.4 M1000.0 539.1h-11.0" stroke-width="2.1"/><path d="M159.3 565.4h5.8 M1000.0 565.4h-6.4" stroke-width="1.7"/><path d="M159.3 591.7h5.8 M1000.0 591.7h-6.4" stroke-width="1.7"/><path d="M159.3 618.0h5.8 M1000.0 618.0h-6.4" stroke-width="1.7"/><path d="M159.3 644.2h10.4 M1000.0 644.2h-11.0" stroke-width="2.1"/><path d="M159.3 670.5h5.8 M1000.0 670.5h-6.4" stroke-width="1.7"/><path d="M159.3 696.8h5.8 M1000.0 696.8h-6.4" stroke-width="1.7"/><path d="M159.3 723.1h5.8 M1000.0 723.1h-6.4" stroke-width="1.7"/><path d="M159.3 749.4h10.4 M1000.0 749.4h-11.0" stroke-width="2.1"/><path d="M159.3 775.7h5.8 M1000.0 775.7h-6.4" stroke-width="1.7"/><path d="M159.3 801.9h5.8 M1000.0 801.9h-6.4" stroke-width="1.7"/><path d="M159.3 828.2h5.8 M1000.0 828.2h-6.4" stroke-width="1.7"/>
</g>
<rect x="159.3" y="13.5" width="840.7" height="841.0" fill="none" stroke="#000" stroke-width="2.4"/>
<text x="148.4" y="28.2" text-anchor="end">−0.50</text>
<text x="148.4" y="133.3" text-anchor="end">−0.75</text>
<text x="148.4" y="238.4" text-anchor="end">−1.00</text>
<text x="148.4" y="343.6" text-anchor="end">−1.25</text>
<text x="148.4" y="448.7" text-anchor="end">−1.50</text>
<text x="148.4" y="553.8" text-anchor="end">−1.75</text>
<text x="148.4" y="659.0" text-anchor="end">−2.00</text>
<text x="148.4" y="764.1" text-anchor="end">−2.25</text>
<text x="148.4" y="869.2" text-anchor="end">−2.50</text>
<text x="158.8" y="894.2" text-anchor="middle">0.2</text>
<text x="399.0" y="894.2" text-anchor="middle">0.4</text>
<text x="639.2" y="894.2" text-anchor="middle">0.6</text>
<text x="879.4" y="894.2" text-anchor="middle">0.8</text>
<text x="579.5" y="942.2" text-anchor="middle">Gini</text>
<text transform="translate(27.8 469.5) rotate(-90)">M<tspan font-size="29.1px" dy="10">20</tspan></text>
<path d="M697.5 97.5H797.9" stroke="#ff0000" stroke-width="4.3" fill="none"/>
<text x="820.0" y="107.3" style="fill:#ff0000">SPH [83]</text>
<path d="M697.5 181.6H797.9" stroke="#007f00" stroke-width="4.3" fill="none"/>
<text x="820.0" y="191.4" style="fill:#007f00">ETD [17]</text>
<path d="M697.5 265.8H797.9" stroke="#0000ff" stroke-width="4.3" fill="none"/>
<text x="820.0" y="275.6" style="fill:#0000ff">LTD [78]</text>
<path d="M697.5 350.0H797.9" stroke="#00ffff" stroke-width="4.3" fill="none"/>
<text x="820.0" y="359.8" style="fill:#00ffff">IRR [36]</text>
</svg>
</body>
</html>
